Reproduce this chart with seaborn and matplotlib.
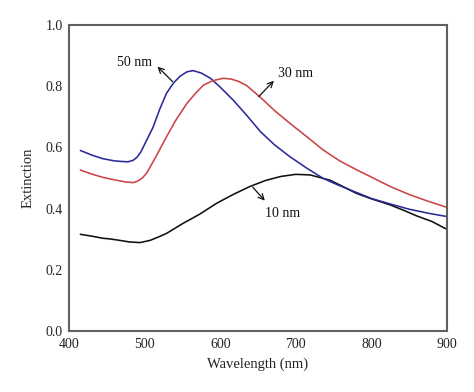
import matplotlib
matplotlib.use("Agg")
import matplotlib.pyplot as plt
import seaborn as sns
import pandas as pd

wl_10 = [415, 430, 445, 454, 465, 480, 494, 507, 520, 529, 551, 573, 595, 617, 639, 660, 680, 700, 719, 745, 760, 780, 800, 825, 845, 860, 880, 900]
ext_10 = [0.316, 0.310, 0.303, 0.301, 0.297, 0.291, 0.289, 0.296, 0.309, 0.319, 0.352, 0.382, 0.417, 0.446, 0.472, 0.492, 0.505, 0.512, 0.510, 0.493, 0.475, 0.450, 0.432, 0.412, 0.392, 0.376, 0.358, 0.332]

wl_50 = [415, 430, 445, 460, 470, 478, 485, 490, 495, 500, 511, 520, 529, 538, 547, 556, 564, 575, 587, 600, 617, 635, 653, 672, 692, 714, 736, 755, 772, 800, 825, 850, 875, 900]
ext_50 = [0.590, 0.575, 0.563, 0.556, 0.554, 0.553, 0.558, 0.568, 0.585, 0.610, 0.665, 0.725, 0.777, 0.810, 0.833, 0.847, 0.851, 0.843, 0.826, 0.797, 0.755, 0.705, 0.652, 0.608, 0.570, 0.533, 0.499, 0.478, 0.461, 0.433, 0.415, 0.398, 0.385, 0.374]

wl_30 = [415, 430, 445, 460, 475, 485, 491, 497, 503, 515, 529, 542, 556, 567, 578, 590, 604, 615, 625, 635, 653, 672, 692, 714, 736, 758, 781, 800, 825, 850, 875, 900]
ext_30 = [0.526, 0.513, 0.502, 0.494, 0.487, 0.485, 0.490, 0.500, 0.517, 0.570, 0.635, 0.692, 0.744, 0.776, 0.804, 0.818, 0.826, 0.823, 0.815, 0.802, 0.764, 0.720, 0.679, 0.636, 0.592, 0.556, 0.526, 0.503, 0.472, 0.446, 0.424, 0.404]

x_ticks = [400, 500, 600, 700, 800, 900]
y_ticks = [0.0, 0.2, 0.4, 0.6, 0.8, 1.0]

sns.set_style("white")
plt.rcParams['font.family'] = ['Liberation Serif', 'DejaVu Serif']

fig = plt.figure(figsize=(4.74, 3.92), dpi=100)
ax = fig.add_axes([0.1456, 0.1556, 0.7975, 0.7806])

df10 = pd.DataFrame({"wl": wl_10, "ext": ext_10})
df50 = pd.DataFrame({"wl": wl_50, "ext": ext_50})
df30 = pd.DataFrame({"wl": wl_30, "ext": ext_30})

sns.lineplot(data=df10, x="wl", y="ext", ax=ax, color="#111111", linewidth=1.15)
sns.lineplot(data=df50, x="wl", y="ext", ax=ax, color="#2a2a99", linewidth=1.15)
sns.lineplot(data=df30, x="wl", y="ext", ax=ax, color="#cc4444", linewidth=1.15)

ax.set_xlim(400, 900)
ax.set_ylim(0, 1.0)
ax.set_xticks(x_ticks)
ax.set_yticks(y_ticks)
ax.set_xticklabels([str(t) for t in x_ticks])
ax.set_yticklabels([f"{t:.1f}" for t in y_ticks])
ax.tick_params(axis="both", length=0, labelsize=10, colors="#222222")
ax.tick_params(axis="x", pad=5)
ax.tick_params(axis="y", pad=4.5)
ax.set_xlabel("Wavelength (nm)", fontsize=10.5, color="#222222", labelpad=5)
ax.set_ylabel("Extinction", fontsize=10.5, color="#222222", labelpad=8)

for s in ax.spines.values():
    s.set_color("#606060")
    s.set_linewidth(1.5)

arrow = dict(arrowstyle="->", color="#111111", lw=0.9, shrinkA=0, shrinkB=0)
ax.annotate("", xy=(517, 0.864), xytext=(537, 0.815), arrowprops=arrow)
ax.text(487, 0.879, "50 nm", ha="center", va="center", fontsize=10, color="#111111")
ax.annotate("", xy=(671, 0.818), xytext=(651, 0.766), arrowprops=arrow)
ax.text(699, 0.840, "30 nm", ha="center", va="center", fontsize=10, color="#111111")
ax.annotate("", xy=(659, 0.426), xytext=(643, 0.470), arrowprops=arrow)
ax.text(683, 0.385, "10 nm", ha="center", va="center", fontsize=10, color="#111111")

fig.savefig("out.png", dpi=100)
